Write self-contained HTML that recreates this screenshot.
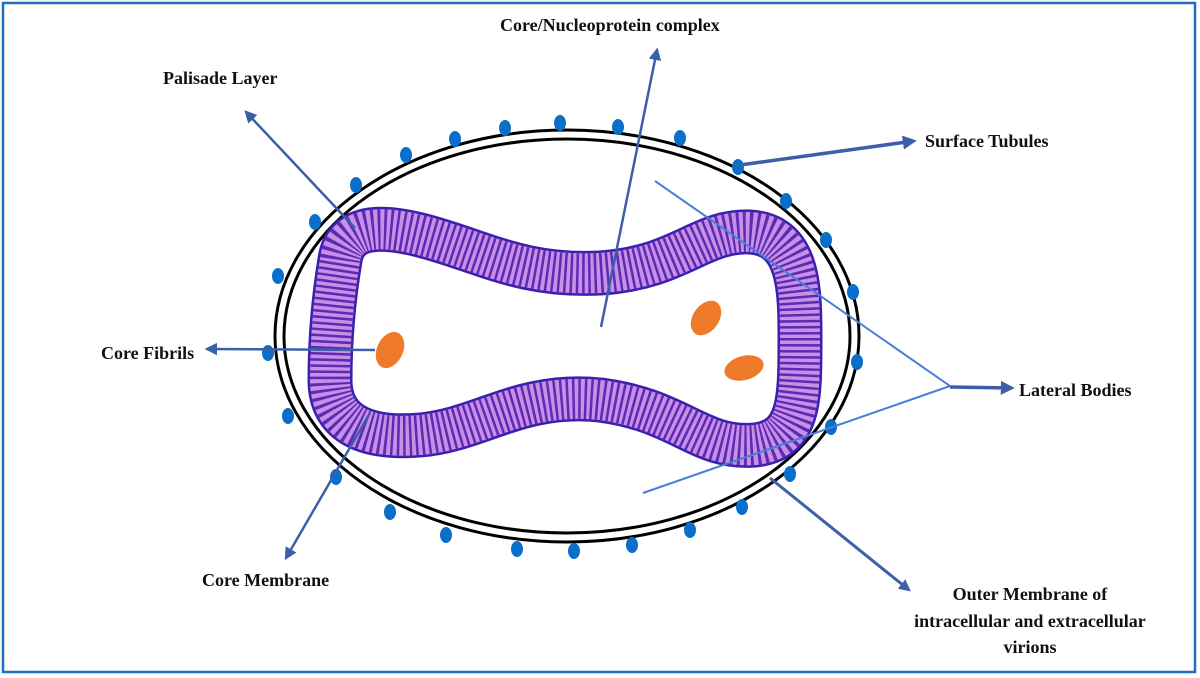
<!DOCTYPE html>
<html><head><meta charset="utf-8"><style>
html,body{margin:0;padding:0;background:#fff;}
svg{display:block}
text{font-family:"Liberation Serif",serif;font-weight:bold;font-size:18px;fill:#111;}
</style></head><body>
<svg width="1200" height="678" viewBox="0 0 1200 678" xmlns="http://www.w3.org/2000/svg">
<defs>
<marker id="ah" viewBox="0 0 10 10" refX="8" refY="5" markerWidth="5" markerHeight="5" orient="auto"><path d="M0,0 L10,5 L0,10 z" fill="#3d5fa8"/></marker>
<marker id="ah2" viewBox="0 0 10 10" refX="8" refY="5" markerWidth="4" markerHeight="4" orient="auto"><path d="M0,0 L10,5 L0,10 z" fill="#3d5fa8"/></marker>
</defs>
<rect x="3" y="3" width="1192" height="669" fill="none" stroke="#1f6fc0" stroke-width="2.5"/>
<ellipse cx="567" cy="336" rx="292" ry="206" fill="none" stroke="#000" stroke-width="3"/>
<ellipse cx="567" cy="336" rx="283" ry="197" fill="none" stroke="#000" stroke-width="3"/>
<g fill="#0a6fc8">
<ellipse cx="505" cy="128" rx="6" ry="8"/><ellipse cx="560" cy="123" rx="6" ry="8"/><ellipse cx="618" cy="127" rx="6" ry="8"/><ellipse cx="680" cy="138" rx="6" ry="8"/><ellipse cx="738" cy="167" rx="6" ry="8"/><ellipse cx="786" cy="201" rx="6" ry="8"/><ellipse cx="826" cy="240" rx="6" ry="8"/><ellipse cx="853" cy="292" rx="6" ry="8"/><ellipse cx="857" cy="362" rx="6" ry="8"/><ellipse cx="831" cy="427" rx="6" ry="8"/><ellipse cx="790" cy="474" rx="6" ry="8"/><ellipse cx="742" cy="507" rx="6" ry="8"/><ellipse cx="690" cy="530" rx="6" ry="8"/><ellipse cx="632" cy="545" rx="6" ry="8"/><ellipse cx="574" cy="551" rx="6" ry="8"/><ellipse cx="517" cy="549" rx="6" ry="8"/><ellipse cx="446" cy="535" rx="6" ry="8"/><ellipse cx="390" cy="512" rx="6" ry="8"/><ellipse cx="336" cy="477" rx="6" ry="8"/><ellipse cx="288" cy="416" rx="6" ry="8"/><ellipse cx="268" cy="353" rx="6" ry="8"/><ellipse cx="278" cy="276" rx="6" ry="8"/><ellipse cx="315" cy="222" rx="6" ry="8"/><ellipse cx="356" cy="185" rx="6" ry="8"/><ellipse cx="406" cy="155" rx="6" ry="8"/><ellipse cx="455" cy="139" rx="6" ry="8"/>
</g>
<path d="M340,260 C345,225 380,225 420,235 C480,250 520,277 600,273 C680,268 700,230 750,232 C800,235 800,290 800,340 C800,400 800,440 755,445 C700,450 680,410 600,400 C520,392 480,430 420,435 C360,440 330,420 330,380 C330,330 335,290 340,260 Z" fill="none" stroke="#3a1fb0" stroke-width="45"/>
<path d="M340,260 C345,225 380,225 420,235 C480,250 520,277 600,273 C680,268 700,230 750,232 C800,235 800,290 800,340 C800,400 800,440 755,445 C700,450 680,410 600,400 C520,392 480,430 420,435 C360,440 330,420 330,380 C330,330 335,290 340,260 Z" fill="none" stroke="#c690e6" stroke-width="40"/>
<path d="M340,260 C345,225 380,225 420,235 C480,250 520,277 600,273 C680,268 700,230 750,232 C800,235 800,290 800,340 C800,400 800,440 755,445 C700,450 680,410 600,400 C520,392 480,430 420,435 C360,440 330,420 330,380 C330,330 335,290 340,260 Z" fill="none" stroke="#5e2ab4" stroke-width="40" stroke-dasharray="2.5 3.5"/>
<g fill="#ee7a2a">
<ellipse cx="390" cy="350" rx="13" ry="19" transform="rotate(25 390 350)"/>
<ellipse cx="706" cy="318" rx="13" ry="19" transform="rotate(35 706 318)"/>
<ellipse cx="744" cy="368" rx="20" ry="12" transform="rotate(-15 744 368)"/>
</g>
<g stroke="#3d5fa8" stroke-width="2.5" fill="none">
<line x1="355" y1="228" x2="246" y2="112" marker-end="url(#ah)"/>
<line x1="601" y1="327" x2="657" y2="50" marker-end="url(#ah)"/>
<line x1="740" y1="165" x2="914" y2="141" stroke-width="3.5" marker-end="url(#ah2)"/>
<line x1="375" y1="350" x2="207" y2="349" marker-end="url(#ah)"/>
<line x1="370" y1="413" x2="286" y2="558" marker-end="url(#ah)"/>
<line x1="770" y1="478" x2="909" y2="590" stroke-width="3" marker-end="url(#ah2)"/>
<line x1="950" y1="387" x2="1012" y2="388" stroke-width="3.5" marker-end="url(#ah2)"/>
</g>
<g stroke="#4a7fd4" stroke-width="2" fill="none">
<line x1="655" y1="181" x2="950" y2="386"/>
<line x1="643" y1="493" x2="950" y2="386"/>
</g>
<text x="500" y="31">Core/Nucleoprotein complex</text>
<text x="163" y="84">Palisade Layer</text>
<text x="925" y="147">Surface Tubules</text>
<text x="101" y="359">Core Fibrils</text>
<text x="1019" y="396">Lateral Bodies</text>
<text x="202" y="586">Core Membrane</text>
<text x="1030" y="600" text-anchor="middle">Outer Membrane of</text>
<text x="1030" y="627" text-anchor="middle">intracellular and extracellular</text>
<text x="1030" y="653" text-anchor="middle">virions</text>
</svg>
</body></html>
